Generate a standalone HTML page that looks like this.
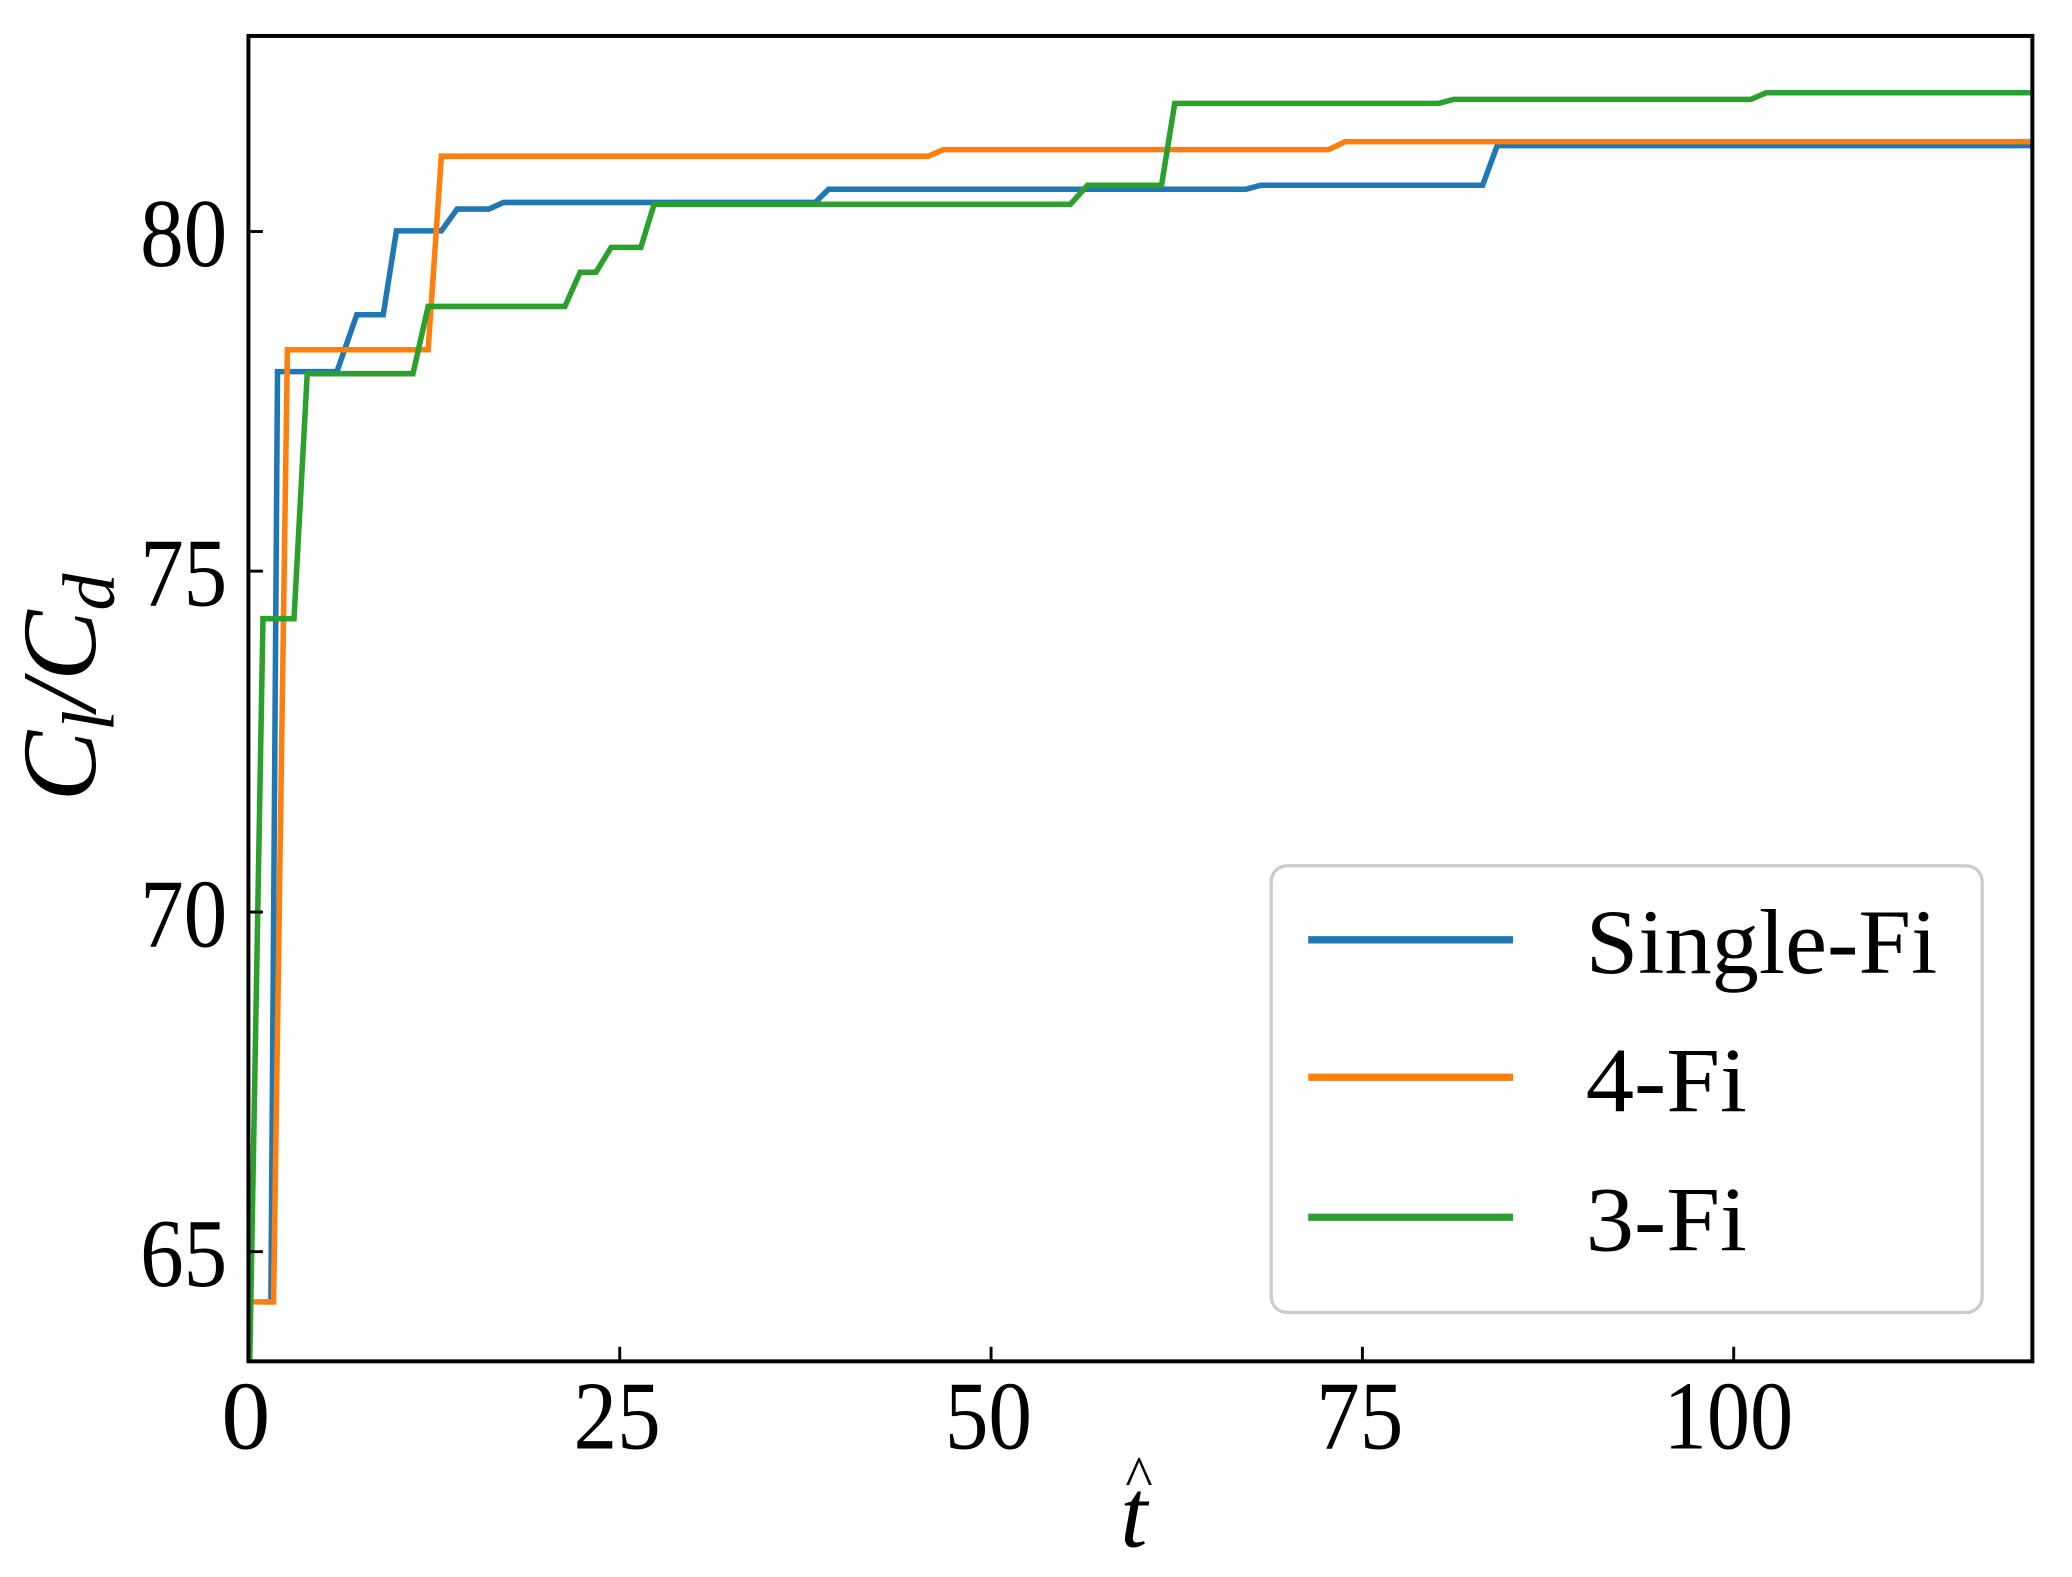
<!DOCTYPE html>
<html><head><meta charset="utf-8"><style>html,body{margin:0;padding:0;background:#fff}svg{display:block}</style></head>
<body>
<svg width="2072" height="1577" viewBox="0 0 1568 1193" xmlns="http://www.w3.org/2000/svg" font-family="'Liberation Serif', serif">
<rect width="1568" height="1193" fill="#fff"/>
<g fill="none" stroke-width="4.2" stroke-linejoin="miter">
<polyline stroke="#1f77b4" points="199,985 205,985 210,281 255,281 270,238 290,238 300,174.5 334,174.5 346,158 370,158 381,153 617,153 627,143 943,143 954,140 1122,140 1133,110 1537,110"/>
<polyline stroke="#ff7f0e" points="189,985 207,985 217.5,264.5 324,264.5 334,118 702.5,118 714,113 1005.5,113 1018,107 1537,107"/>
<polyline stroke="#2ca02c" points="189,1030 199,468 222.5,468 232.5,282.6 312.5,282.6 324,231.7 427.5,231.7 439,205.8 451,205.8 462.5,187 485,187 495,154.4 810,154.4 823,140 879,140 889,78 1089,78 1100,75 1325,75 1336.5,70 1537,70"/>
</g>
<rect x="188" y="27" width="1350" height="1003" fill="none" stroke="#000" stroke-width="3"/>
<g stroke="#000" stroke-width="2.2">
<line x1="188" y1="175" x2="199" y2="175"/><line x1="188" y1="432" x2="199" y2="432"/><line x1="188" y1="690" x2="199" y2="690"/><line x1="188" y1="947" x2="199" y2="947"/>
<line x1="469" y1="1030" x2="469" y2="1019"/><line x1="750" y1="1030" x2="750" y2="1019"/><line x1="1031" y1="1030" x2="1031" y2="1019"/><line x1="1312" y1="1030" x2="1312" y2="1019"/>
</g>
<g font-size="74" text-anchor="end" fill="#000">
<text x="172" y="201" textLength="66" lengthAdjust="spacingAndGlyphs">80</text>
<text x="172" y="458" textLength="66" lengthAdjust="spacingAndGlyphs">75</text>
<text x="172" y="716" textLength="66" lengthAdjust="spacingAndGlyphs">70</text>
<text x="172" y="973" textLength="66" lengthAdjust="spacingAndGlyphs">65</text>
</g>
<g font-size="74" text-anchor="middle" fill="#000">
<text x="186" y="1096">0</text>
<text x="467" y="1096" textLength="66" lengthAdjust="spacingAndGlyphs">25</text>
<text x="748" y="1096" textLength="66" lengthAdjust="spacingAndGlyphs">50</text>
<text x="1029" y="1096" textLength="66" lengthAdjust="spacingAndGlyphs">75</text>
<text x="1308" y="1096" textLength="98" lengthAdjust="spacingAndGlyphs">100</text>
</g>
<text x="858" y="1170" font-size="74" font-style="italic" text-anchor="middle">t</text>
<text x="862" y="1132" font-size="44" text-anchor="middle">^</text>
<text transform="translate(72,520) rotate(-90)" font-size="80" font-style="italic" text-anchor="middle">C<tspan font-size="56" dy="14">l</tspan><tspan dy="-14">/C</tspan><tspan font-size="56" dy="14">d</tspan></text>
<rect x="962" y="655" width="538" height="338" rx="12" fill="#fff" stroke="#ccc" stroke-width="2.5"/>
<g stroke-width="5.5">
<line x1="990" y1="711" x2="1145" y2="711" stroke="#1f77b4"/>
<line x1="990" y1="815" x2="1145" y2="815" stroke="#ff7f0e"/>
<line x1="990" y1="921" x2="1145" y2="921" stroke="#2ca02c"/>
</g>
<g font-size="70" fill="#000">
<text x="1200" y="736" textLength="266" lengthAdjust="spacingAndGlyphs">Single-Fi</text>
<text x="1200" y="841" textLength="122" lengthAdjust="spacingAndGlyphs">4-Fi</text>
<text x="1200" y="946" textLength="122" lengthAdjust="spacingAndGlyphs">3-Fi</text>
</g>
</svg>
</body></html>
